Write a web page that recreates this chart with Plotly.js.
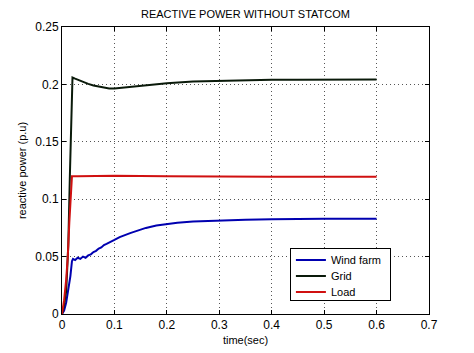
<!DOCTYPE html>
<html><head><meta charset="utf-8">
<script src="https://cdn.plot.ly/plotly-3.0.1.min.js"></script>
<style>html,body{margin:0;padding:0;background:#fff}#c{width:474px;height:353px}</style>
</head><body><div id="c"></div>
<script>
const windT = [0,0.004,0.008,0.012,0.016,0.019,0.021,0.025,0.03,0.035,0.04,0.045,0.05,0.055,0.06,0.065,0.07,0.075,0.08,0.085,0.09,0.1,0.11,0.12,0.13,0.14,0.15,0.16,0.18,0.2,0.22,0.25,0.3,0.35,0.4,0.45,0.5,0.55,0.6];
const windQ = [0,0.003,0.01,0.02,0.033,0.046,0.048,0.047,0.049,0.048,0.05,0.049,0.051,0.052,0.054,0.055,0.057,0.058,0.06,0.061,0.062,0.0645,0.067,0.069,0.0705,0.072,0.0735,0.075,0.077,0.0785,0.0795,0.0805,0.0815,0.082,0.0825,0.083,0.083,0.083,0.083];
const gridT = [0,0.004,0.008,0.012,0.015,0.018,0.02,0.025,0.03,0.04,0.05,0.06,0.07,0.08,0.09,0.1,0.11,0.12,0.14,0.16,0.18,0.2,0.25,0.3,0.35,0.4,0.45,0.5,0.55,0.6];
const gridQ = [0,0.008,0.02,0.06,0.12,0.18,0.206,0.205,0.204,0.2025,0.2005,0.199,0.198,0.197,0.1965,0.1965,0.197,0.1975,0.1985,0.1995,0.2005,0.201,0.2025,0.2032,0.2037,0.204,0.204,0.2042,0.2043,0.2043];
const loadT = [0,0.004,0.008,0.011,0.014,0.017,0.019,0.03,0.1,0.2,0.3,0.4,0.5,0.6];
const loadQ = [0,0.012,0.03,0.05,0.08,0.11,0.12,0.12,0.1205,0.12,0.1195,0.1195,0.1195,0.1195];
const xTicks = [0,0.1,0.2,0.3,0.4,0.5,0.6,0.7];
const xTickText = ['0','0.1','0.2','0.3','0.4','0.5','0.6','0.7'];
const yTicks = [0,0.05,0.1,0.15,0.2,0.25];
const yTickText = ['0','0.05','0.1','0.15','0.2','0.25'];

const F = 'Liberation Sans, Arial, sans-serif';
const traces = [
  {x: windT, y: windQ, name: 'Wind farm', mode: 'lines', line: {color: '#0000b0', width: 2}},
  {x: gridT, y: gridQ, name: 'Grid', mode: 'lines', line: {color: '#0a1a0a', width: 2}},
  {x: loadT, y: loadQ, name: 'Load', mode: 'lines', line: {color: '#d01010', width: 2}}
];
const ax = {
  showline: true, mirror: 'ticks', linecolor: '#000', linewidth: 1,
  ticks: 'inside', ticklen: 4, tickcolor: '#000',
  showgrid: true, gridcolor: '#555', griddash: '1px,3px', gridwidth: 1,
  zeroline: false, tickfont: {family: F, size: 12, color: '#000'}
};
const layout = {
  width: 474, height: 353,
  margin: {l: 62, r: 45, t: 27, b: 39},
  paper_bgcolor: '#fff', plot_bgcolor: '#fff',
  title: {text: 'REACTIVE POWER WITHOUT STATCOM', font: {family: F, size: 11, color: '#000'}, x: 0.5, xref: 'paper', y: 0.96, yref: 'container', yanchor: 'middle'},
  xaxis: Object.assign({}, ax, {range: [0, 0.7], tickvals: xTicks, ticktext: xTickText,
    title: {text: 'time(sec)', font: {family: F, size: 11, color: '#000'}, standoff: 4}}),
  yaxis: Object.assign({}, ax, {range: [0, 0.25], tickvals: yTicks, ticktext: yTickText,
    title: {text: 'reactive power (p.u)', font: {family: F, size: 11, color: '#000'}, standoff: 6}}),
  showlegend: true,
  legend: {x: 0.621, y: 0.23, xanchor: 'left', yanchor: 'top', bgcolor: '#fff', bordercolor: '#000', borderwidth: 1,
    font: {family: F, size: 11, color: '#000'}, tracegroupgap: 0, itemwidth: 30, valign: 'middle'}
};
Plotly.newPlot('c', traces, layout, {displayModeBar: false, staticPlot: true}).then(function(){
  // tighten legend row spacing to match reference
  const items = document.querySelectorAll('.legend .traces');
  items.forEach(function(el, i){ el.setAttribute('transform', 'translate(1,' + (12 + i*16) + ')'); });
  const bg = document.querySelector('.legend .bg');
  if (bg) bg.setAttribute('height', 52);
  bg && bg.setAttribute('width', 100);
});
</script></body></html>
